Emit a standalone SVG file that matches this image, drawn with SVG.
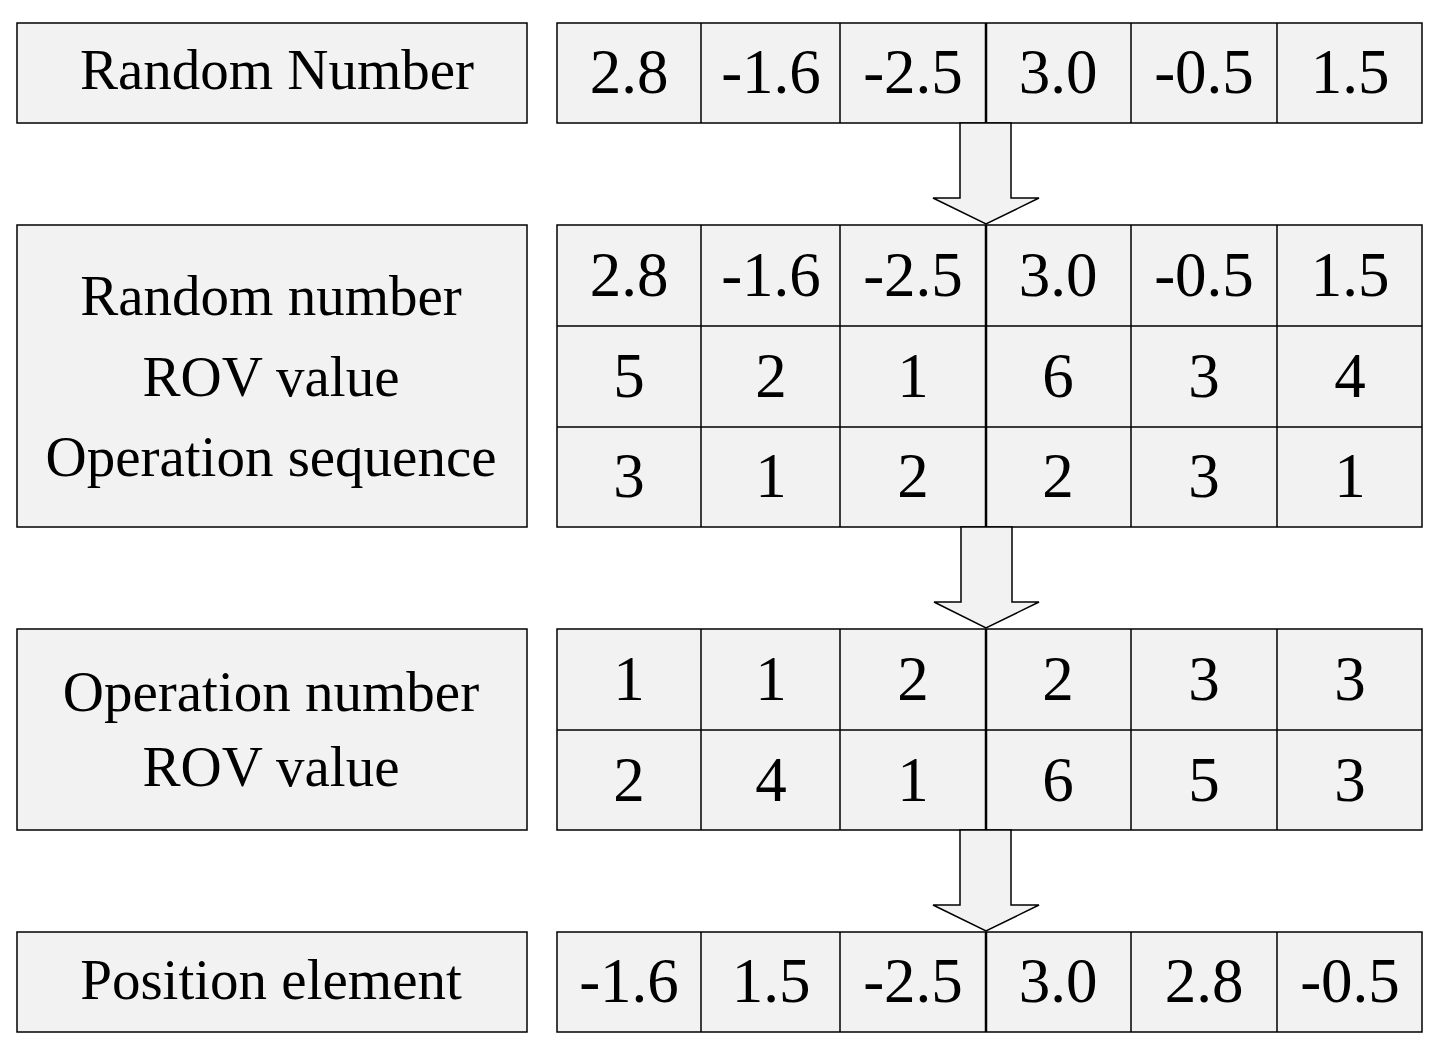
<svg xmlns="http://www.w3.org/2000/svg" width="1450" height="1063" viewBox="0 0 1450 1063">
<style>
.box{fill:#f2f2f2;stroke:#000;stroke-width:1.5}
.ln{stroke:#000;stroke-width:1.5;fill:none}
.mid{stroke:#000;stroke-width:2.5;fill:none}
.lbl{font-family:"Liberation Serif","Times New Roman",serif;font-size:57px;fill:#000;text-anchor:middle}
.num{font-family:"Liberation Serif","Times New Roman",serif;font-size:63px;fill:#000;text-anchor:middle}
.arr{fill:#f2f2f2;stroke:#000;stroke-width:1.5;stroke-linejoin:miter}
</style>
<rect width="1450" height="1063" fill="#fff"/>

<g id="label-random-number">
<rect class="box" x="17" y="23" width="510" height="100"/>
<text class="lbl" x="277" y="89">Random Number</text>
</g>
<g id="grid-random-number">
<rect class="box" x="557" y="23" width="865" height="100"/>
<path class="ln" d="M701,23V123M840,23V123M1131,23V123M1277,23V123"/>
<path class="mid" d="M986,23V123"/>
<g class="num">
<text x="629" y="93">2.8</text><text x="771" y="93">-1.6</text><text x="913" y="93">-2.5</text><text x="1058" y="93">3.0</text><text x="1204" y="93">-0.5</text><text x="1350" y="93">1.5</text>
</g>
</g>

<g id="label-rov">
<rect class="box" x="17" y="225" width="510" height="302"/>
<text class="lbl" x="271" y="315">Random number</text>
<text class="lbl" x="271" y="396">ROV value</text>
<text class="lbl" x="271" y="476">Operation sequence</text>
</g>
<g id="grid-rov">
<rect class="box" x="557" y="225" width="865" height="302"/>
<path class="ln" d="M557,326H1422M557,427H1422M701,225V527M840,225V527M1131,225V527M1277,225V527"/>
<path class="mid" d="M986,225V527"/>
<g class="num">
<text x="629" y="296">2.8</text><text x="771" y="296">-1.6</text><text x="913" y="296">-2.5</text><text x="1058" y="296">3.0</text><text x="1204" y="296">-0.5</text><text x="1350" y="296">1.5</text>
<text x="629" y="397">5</text><text x="771" y="397">2</text><text x="913" y="397">1</text><text x="1058" y="397">6</text><text x="1204" y="397">3</text><text x="1350" y="397">4</text>
<text x="629" y="497">3</text><text x="771" y="497">1</text><text x="913" y="497">2</text><text x="1058" y="497">2</text><text x="1204" y="497">3</text><text x="1350" y="497">1</text>
</g>
</g>

<g id="label-operation">
<rect class="box" x="17" y="629" width="510" height="201"/>
<text class="lbl" x="271" y="711">Operation number</text>
<text class="lbl" x="271" y="786">ROV value</text>
</g>
<g id="grid-operation">
<rect class="box" x="557" y="629" width="865" height="201"/>
<path class="ln" d="M557,730H1422M701,629V830M840,629V830M1131,629V830M1277,629V830"/>
<path class="mid" d="M986,629V830"/>
<g class="num">
<text x="629" y="700">1</text><text x="771" y="700">1</text><text x="913" y="700">2</text><text x="1058" y="700">2</text><text x="1204" y="700">3</text><text x="1350" y="700">3</text>
<text x="629" y="801">2</text><text x="771" y="801">4</text><text x="913" y="801">1</text><text x="1058" y="801">6</text><text x="1204" y="801">5</text><text x="1350" y="801">3</text>
</g>
</g>

<g id="label-position">
<rect class="box" x="17" y="932" width="510" height="100"/>
<text class="lbl" x="271" y="999">Position element</text>
</g>
<g id="grid-position">
<rect class="box" x="557" y="932" width="865" height="100"/>
<path class="ln" d="M701,932V1032M840,932V1032M1131,932V1032M1277,932V1032"/>
<path class="mid" d="M986,932V1032"/>
<g class="num">
<text x="629" y="1002">-1.6</text><text x="771" y="1002">1.5</text><text x="913" y="1002">-2.5</text><text x="1058" y="1002">3.0</text><text x="1204" y="1002">2.8</text><text x="1350" y="1002">-0.5</text>
</g>
</g>

<g id="connectors">
<path class="arr" d="M960,123H1011V198H1039L986,224L933,198H960Z"/>
<path class="arr" d="M961,527H1012V602H1039L986,628L934,602H961Z"/>
<path class="arr" d="M960,830H1011V905H1039L986,931L933,905H960Z"/>
</g>
</svg>
